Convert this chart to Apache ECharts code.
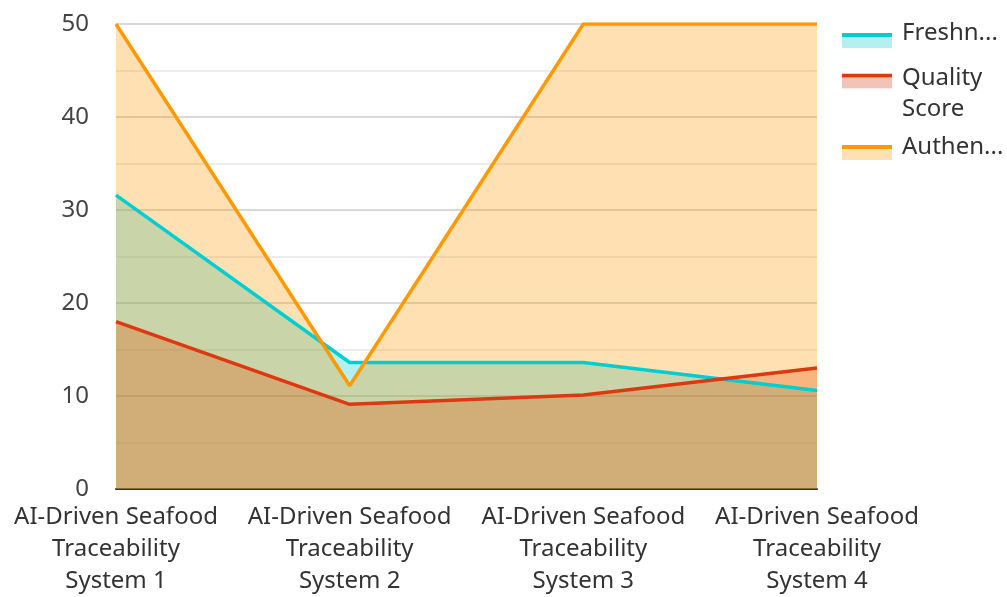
<!DOCTYPE html>
<html>
<head>
<meta charset="utf-8">
<script src="https://cdn.jsdelivr.net/npm/echarts@6/dist/echarts.min.js"></script>
<style>html,body{margin:0;padding:0;background:#fff;}#c{width:1007px;height:597px;}</style>
</head>
<body>
<div id="c"></div>
<script>
const categories = [
  'AI-Driven Seafood Traceability System 1',
  'AI-Driven Seafood Traceability System 2',
  'AI-Driven Seafood Traceability System 3',
  'AI-Driven Seafood Traceability System 4'
];
const seriesNames = ['Freshness Index', 'Quality Score', 'Authenticity Rating'];
const freshness = [31.6, 13.6, 13.6, 10.6];
const quality = [18.0, 9.1, 10.1, 13.0];
const authenticity = [50, 11.1, 50, 50];
const yTicks = [0, 10, 20, 30, 40, 50];

const values = [freshness, quality, authenticity];
const colors = ['#00CED1', '#DC3912', '#FF9900'];
const areaColors = ['rgba(0,206,209,0.3)', 'rgba(220,57,18,0.3)', 'rgba(255,153,0,0.3)'];
const FONT = 'Noto Sans';

// legend icon: [total box height, offset of the visible swatch inside it]
const iconBoxes = [[30, 15], [41.4, 0], [26, 11]];
const legendTops = [17.5, 63, 131.5];

function iconFor(i) {
  const h = iconBoxes[i][0], off = iconBoxes[i][1];
  const svg = '<svg xmlns="http://www.w3.org/2000/svg" width="50" height="' + h + '" viewBox="0 0 50 ' + h + '" preserveAspectRatio="none">' +
    '<rect x="0" y="' + (off + 4) + '" width="50" height="11" fill="' + areaColors[i] + '"/>' +
    '<rect x="0" y="' + off + '" width="50" height="4" fill="' + colors[i] + '"/></svg>';
  return 'image://data:image/svg+xml;charset=utf-8,' + encodeURIComponent(svg);
}

const legends = seriesNames.map((name, i) => ({
  orient: 'vertical',
  left: 842,
  top: legendTops[i],
  padding: 0,
  itemWidth: 50,
  itemHeight: iconBoxes[i][0],
  itemGap: 0,
  data: [{ name: name, icon: iconFor(i) }],
  formatter: n => n === 'Quality Score' ? 'Quality\nScore' : n,
  textStyle: {
    fontFamily: FONT, fontSize: 24, color: '#333', lineHeight: 31,
    width: 104, overflow: 'truncate', ellipsis: '...',
    padding: [0, 0, 0, 5]
  }
}));

const areaSeries = seriesNames.map((name, i) => ({
  name: name,
  type: 'line',
  data: values[i],
  showSymbol: false,
  symbol: 'none',
  lineStyle: { width: 0, color: colors[i] },
  itemStyle: { color: colors[i] },
  areaStyle: { color: areaColors[i], opacity: 1 },
  z: 2
}));
const lineSeries = seriesNames.map((name, i) => ({
  name: name,
  type: 'line',
  data: values[i],
  showSymbol: false,
  symbol: 'none',
  lineStyle: { color: colors[i], width: 3.5 },
  itemStyle: { color: colors[i] },
  z: 3 + i
}));

const chart = echarts.init(document.getElementById('c'));
chart.setOption({
  animation: false,
  backgroundColor: '#fff',
  textStyle: { fontFamily: FONT },
  legend: legends,
  grid: { left: 116, right: 190, top: 24, bottom: 106, containLabel: false },
  xAxis: {
    type: 'category',
    data: categories,
    boundaryGap: false,
    axisLine: { show: true, lineStyle: { color: '#333', width: 2 } },
    axisTick: { show: false },
    splitLine: { show: false },
    axisLabel: {
      fontFamily: FONT, fontSize: 24, color: '#333', lineHeight: 32,
      margin: 12, width: 208, overflow: 'break', interval: 0, align: 'center'
    }
  },
  yAxis: {
    type: 'value',
    min: yTicks[0],
    max: yTicks[yTicks.length - 1],
    interval: yTicks[1] - yTicks[0],
    axisLine: { show: false },
    axisTick: { show: false },
    axisLabel: { fontFamily: FONT, fontSize: 24, color: '#444', margin: 27 },
    splitLine: { show: true, lineStyle: { color: '#cccccc', width: 1.5 } },
    minorTick: { show: false, splitNumber: 2 },
    minorSplitLine: { show: true, lineStyle: { color: '#e6e6e6', width: 1.5 } }
  },
  series: areaSeries.concat(lineSeries)
});
</script>
</body>
</html>
